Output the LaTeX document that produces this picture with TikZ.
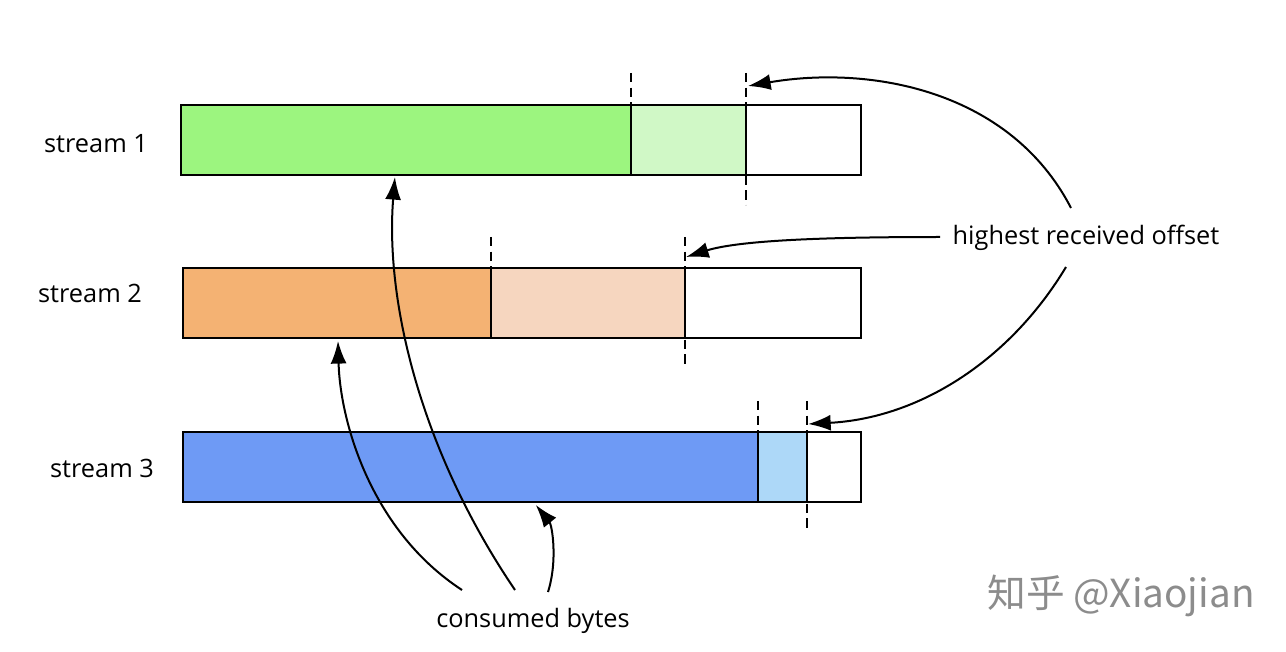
\documentclass[tikz,border=0pt]{standalone}
\usepackage{fontspec}
\setmainfont{Open Sans}
\newfontfamily\cjk{Noto Sans CJK SC}
\usetikzlibrary{arrows.meta}
\definecolor{gA}{HTML}{9CF57F}\definecolor{gB}{HTML}{D0F8C6}
\definecolor{oA}{HTML}{F4B273}\definecolor{oB}{HTML}{F6D6BF}
\definecolor{bA}{HTML}{6E9AF5}\definecolor{bB}{HTML}{ADD8F8}
\begin{document}
\begin{tikzpicture}[x=0.75pt,y=-0.75pt,
  box/.style={draw=black,line width=1.3pt},
  offmark/.style={draw=black,line width=1.5pt,dash pattern=on 7pt off 4pt},
  arr/.style={-{Latex[length=17pt,width=12pt]},line width=1.5pt},
  lab/.style={font=\fontsize{19}{22}\selectfont,inner sep=0pt}]
\useasboundingbox (0,0) rectangle (1286,652);
% stream 1
\filldraw[box,fill=gA] (181,105) rectangle (631,175);
\filldraw[box,fill=gB] (631,105) rectangle (746,175);
\draw[box] (746,105) rectangle (861,175);
\node[inner sep=0] (s1) at (395,176) {};
\draw[offmark] (631,73) -- (631,105);
\draw[offmark] (746,73) -- (746,205);
\coordinate (h1) at (748,86);
% stream 2
\filldraw[box,fill=oA] (183,268) rectangle (491,338);
\filldraw[box,fill=oB] (491,268) rectangle (685,338);
\draw[box] (685,268) rectangle (861,338);
\node[inner sep=0] (s2) at (338,340) {};
\draw[offmark] (491,237) -- (491,268);
\draw[offmark] (685,237) -- (685,368);
\coordinate (h2) at (686,257);
% stream 3
\filldraw[box,fill=bA] (183,432) rectangle (758,502);
\filldraw[box,fill=bB] (758,432) rectangle (807,502);
\draw[box] (807,432) rectangle (861,502);
\node[inner sep=0] (s3) at (535,504) {};
\draw[offmark] (758,401) -- (758,432);
\draw[offmark] (807,401) -- (807,532);
\coordinate (h3) at (808,424);
% labels
\node[lab] (l1) at (96,144) {stream 1};
\node[lab] (l2) at (90,293) {stream 2};
\node[lab] (l3) at (102,468) {stream 3};
\node[lab] (hro) at (1086,238) {highest received offset};
\node[lab] (cb) at (533,621) {consumed bytes};
\node[font=\cjk\fontsize{29}{33}\selectfont,text=black!45,inner sep=0] (wm) at (1121,596) {知乎 @Xiaojian};
% arrows
\draw[arr] (1071,208) .. controls (1010,90) and (870,65) .. (h1);
\draw[arr] (940,237) .. controls (830,237) and (740,240) .. (h2);
\draw[arr] (1066,267) .. controls (1010,360) and (920,418) .. (h3);
\draw[arr] (462,590) .. controls (370,530) and (340,420) .. (s2);
\draw[arr] (515,590) .. controls (420,450) and (385,300) .. (s1);
\draw[arr] (548,592) .. controls (558,560) and (552,525) .. (s3);
\end{tikzpicture}
\end{document}
